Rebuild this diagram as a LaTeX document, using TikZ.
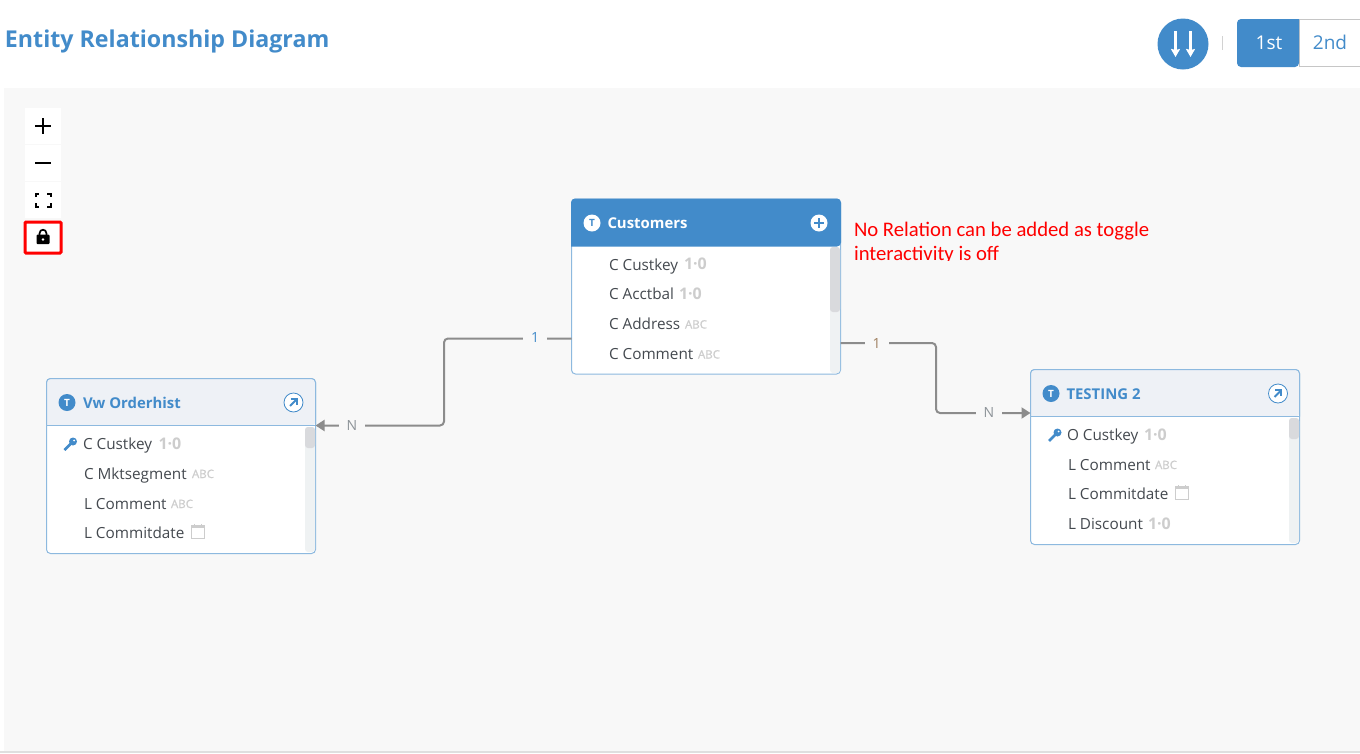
\documentclass[tikz,border=0pt]{standalone}
\usepackage{fontspec}
\setmainfont{Open Sans}
\newfontfamily\semib[FakeBold=0.9]{Open Sans}
\newfontfamily\notef{Carlito}
\usetikzlibrary{arrows.meta}
\definecolor{brand}{HTML}{428BCA}
\definecolor{panel}{HTML}{F8F8F8}
\definecolor{hdr}{HTML}{EEF1F6}
\definecolor{cardline}{HTML}{8DB9DF}
\definecolor{conn}{HTML}{8C8C8C}
\definecolor{lab}{HTML}{8E9499}
\definecolor{typec}{HTML}{CDCDCD}
\definecolor{fieldc}{HTML}{44494F}
\definecolor{track}{HTML}{EFF2F3}
\definecolor{thumb}{HTML}{D9DADD}
\tikzset{
  x=1pt,y=-1pt,
  every node/.style={inner sep=0pt,outer sep=0pt},
  card/.style={draw=cardline,line width=1pt,rounded corners=4pt,fill=white,anchor=north west},
  field/.style={anchor=base west,font=\fontsize{15.3}{15}\selectfont,text=fieldc},
  cardtitle/.style={anchor=base west,font=\bfseries\fontsize{14.9}{15}\selectfont,text=brand},
  numtype/.style={anchor=base west,font=\bfseries\fontsize{16}{15}\selectfont,text=typec},
  abctype/.style={anchor=base west,font=\semib\fontsize{11.5}{11}\selectfont,text=typec},
  connector/.style={draw=conn,line width=2pt,rounded corners=4pt},
  arrowed/.style={-{Triangle[length=9pt,width=11pt]}},
  rellabel/.style={font=\fontsize{14}{14}\selectfont,fill=panel,inner xsep=8pt,inner ysep=3pt},
  tool/.style={fill=white,minimum width=36pt,minimum height=36pt,anchor=center},
}
\newcommand{\keyicon}[2]{%
  \begin{scope}[shift={(#1,#2)}]
    \fill[brand] (3.5,-3) circle (4);
    \draw[brand,line width=2.6pt] (1.5,-1) -- (-5,5.5);
    \fill[white] (4.6,-4.1) circle (1);
  \end{scope}}
\newcommand{\calicon}[2]{%
  \begin{scope}[shift={(#1,#2)}]
    \draw[typec,line width=.9pt,fill=white] (0,0) rectangle (13,13);
    \draw[typec,line width=2.4pt] (0,1) -- (13,1);
    \draw[typec,line width=1pt] (3,-1.5)--(3,1) (10,-1.5)--(10,1);
  \end{scope}}
\newcommand{\jumpicon}[2]{%
  \draw[brand,line width=.8pt,fill=white] (#1,#2) circle (9.5);
  \draw[brand,line width=1.9pt] (#1-3.4,#2+3.4) -- (#1+3,#2-3);
  \draw[brand,line width=1.9pt] (#1-2.6,#2-3.4) -- (#1+3.4,#2-3.4) -- (#1+3.4,#2+2.6);}
\begin{document}
\begin{tikzpicture}
\useasboundingbox (0,0) rectangle (1360,753);
\fill[white] (0,0) rectangle (1360,753);
\fill[panel] (4,88) rectangle (1360,751);
\fill[gray!25] (0,751) rectangle (1360,753);
% header
\node[anchor=base west,font=\bfseries\fontsize{23.2}{25}\selectfont,text=brand] (title) at (5,47) {Entity Relationship Diagram};
\fill[brand] (1183,44) circle (25.5);
\draw[white,line width=2.6pt,-{Stealth[length=8pt,width=9pt,inset=1pt]}] (1175.5,31) -- (1175.5,57);
\draw[white,line width=2.6pt,-{Stealth[length=8pt,width=9pt,inset=1pt]}] (1190.5,31) -- (1190.5,57);
\fill[gray!35] (1222,36) rectangle (1223,50);
\draw[gray!45,line width=1pt,fill=white] (1362,19.5) -- (1299.5,19.5) -- (1299.5,66.5) -- (1362,66.5);
\fill[brand,rounded corners=4pt] (1299,67) [sharp corners] -- (1299,19) [rounded corners=4pt] -- (1237,19) -- (1237,67) -- cycle;
\node[font=\fontsize{19}{19}\selectfont,text=white,anchor=base] (first) at (1269,49.5) {1st};
\node[font=\fontsize{19}{19}\selectfont,text=brand,anchor=base] (second) at (1330,49.5) {2nd};
% tools
\node[tool] (plus) at (43,126) {};
\node[tool] (minus) at (43,163) {};
\node[tool] (fit) at (43,200) {};
\node[fill=white,draw=red,line width=3pt,rounded corners=1pt,minimum width=36pt,minimum height=31pt] (lock) at (43,237.5) {};
\draw[black,line width=2pt] (35,126)--(51,126) (43,118)--(43,134);
\draw[black,line width=2pt] (35,163)--(51,163);
\draw[black,line width=2pt] (35.5,197)--(35.5,193.5)--(39,193.5) (47,193.5)--(50.5,193.5)--(50.5,197) (50.5,203)--(50.5,206.5)--(47,206.5) (39,206.5)--(35.5,206.5)--(35.5,203);
\draw[black,line width=1.7pt] (39.5,235) -- (39.5,233.5) .. controls (39.5,228.5) and (46.5,228.5) .. (46.5,233.5) -- (46.5,235);
\fill[black,rounded corners=1pt] (36.5,234.5) rectangle (49.5,244);
\fill[white] (43,239.5) circle (1.3);
% cards
\node[card,minimum width=269pt,minimum height=175pt] (vw) at (46.5,378.5) {};
\node[card,minimum width=269pt,minimum height=175pt] (cust) at (571.5,199) {};
\node[card,minimum width=269pt,minimum height=175pt] (test) at (1030.5,369.5) {};
% headers
\fill[hdr,rounded corners=4pt] (315.5,425.5) [sharp corners] -- (46.5,425.5) [rounded corners=4pt] -- (46.5,378.5) -- (315.5,378.5) -- cycle;
\draw[cardline,line width=1pt,rounded corners=4pt] (46.5,425.5) -- (46.5,378.5) -- (315.5,378.5) -- (315.5,425.5);
\draw[cardline,line width=1pt] (47,425.5) -- (316,425.5);
\fill[hdr,rounded corners=4pt] (1299.5,416.5) [sharp corners] -- (1030.5,416.5) [rounded corners=4pt] -- (1030.5,369.5) -- (1299.5,369.5) -- cycle;
\draw[cardline,line width=1pt,rounded corners=4pt] (1030.5,416.5) -- (1030.5,369.5) -- (1299.5,369.5) -- (1299.5,416.5);
\draw[cardline,line width=1pt] (1031,416.5) -- (1300,416.5);
\fill[brand,rounded corners=4pt] (841,246.5) [sharp corners] -- (571,246.5) [rounded corners=4pt] -- (571,198.5) -- (841,198.5) -- cycle;
% scrollbars
\fill[track,rounded corners=3pt] (305,427) rectangle (315,552);
\fill[thumb,rounded corners=3pt] (305,427) rectangle (315,448);
\fill[track,rounded corners=3pt] (830,247) rectangle (840,373);
\fill[thumb,rounded corners=3pt] (830,247) rectangle (840,312);
\fill[track,rounded corners=3pt] (1289,418) rectangle (1299,543);
\fill[thumb,rounded corners=3pt] (1289,418) rectangle (1299,439);
% Vw Orderhist
\fill[brand] (67,402.5) circle (8.5);
\node[font=\bfseries\fontsize{10}{10}\selectfont,text=white] (vwt) at (67,402.5) {T};
\node[cardtitle] (vwtitle) at (83,408) {Vw Orderhist};
\jumpicon{293.5}{402.5}
\keyicon{69.5}{444.5}
\node[field] (vw1) at (83,449.5) {C Custkey};
\node[numtype] (vw1t) at (158.5,449) {1\textperiodcentered 0};
\node[field] (vw2) at (84,479) {C Mktsegment};
\node[abctype] (vw2t) at (192,478) {ABC};
\node[field] (vw3) at (84,509) {L Comment};
\node[abctype] (vw3t) at (171,508) {ABC};
\node[field] (vw4) at (84,538) {L Commitdate};
\calicon{191}{525.5}
% Customers
\fill[white] (592,223) circle (8.5);
\node[font=\bfseries\fontsize{10}{10}\selectfont,text=brand] (cut) at (592,223) {T};
\node[cardtitle,text=white] (custtitle) at (607.5,228) {Customers};
\fill[white] (819,223) circle (8.5);
\draw[brand,line width=2.6pt] (814,223)--(824,223) (819,218)--(819,228);
\node[field] (cu1) at (609,270) {C Custkey};
\node[numtype] (cu1t) at (684,269.5) {1\textperiodcentered 0};
\node[field] (cu2) at (609,299.5) {C Acctbal};
\node[numtype] (cu2t) at (679,299.5) {1\textperiodcentered 0};
\node[field] (cu3) at (609,329) {C Address};
\node[abctype] (cu3t) at (685,328.5) {ABC};
\node[field] (cu4) at (609,359) {C Comment};
\node[abctype] (cu4t) at (698,358.5) {ABC};
% Testing 2
\fill[brand] (1051,393.5) circle (8.5);
\node[font=\bfseries\fontsize{10}{10}\selectfont,text=white] (tet) at (1051,393.5) {T};
\node[cardtitle] (testtitle) at (1066.5,399) {TESTING 2};
\jumpicon{1278}{393.5}
\keyicon{1054}{435.5}
\node[field] (te1) at (1067,440) {O Custkey};
\node[numtype] (te1t) at (1144,440) {1\textperiodcentered 0};
\node[field] (te2) at (1068,470) {L Comment};
\node[abctype] (te2t) at (1155,469) {ABC};
\node[field] (te3) at (1068,499.5) {L Commitdate};
\calicon{1175}{486.5}
\node[field] (te4) at (1068,529) {L Discount};
\node[numtype] (te4t) at (1148,529) {1\textperiodcentered 0};
% connectors
\coordinate (c1) at (cust.west |- 0,338.5);
\coordinate (v1) at (vw.east |- 0,425.5);
\coordinate (c2) at (cust.east |- 0,343);
\coordinate (t2) at (test.west |- 0,413);
\draw[connector,arrowed] (c1) -- (444,338.5) -- (444,425.5) -- (v1);
\draw[connector,arrowed] (c2) -- (936,343) -- (936,413) -- (t2);
\node[rellabel,text=brand] (l1) at (535,337) {1};
\node[rellabel,text=lab] (ln) at (352,425) {N};
\node[rellabel,text=brown!50!gray] (l2) at (876.5,343) {1};
\node[rellabel,text=lab] (ln2) at (989,412) {N};
% note
\node[anchor=base west,font=\notef\fontsize{20.7}{19}\selectfont,text=red] (note1) at (854,236) {No Relation can be added as toggle};
\begin{scope}
\clip (850,240) rectangle (1010,260);
\node[anchor=base west,font=\notef\fontsize{20.7}{19}\selectfont,text=red] (note2) at (854,260) {interactivity is off};
\end{scope}
\end{tikzpicture}
\end{document}
